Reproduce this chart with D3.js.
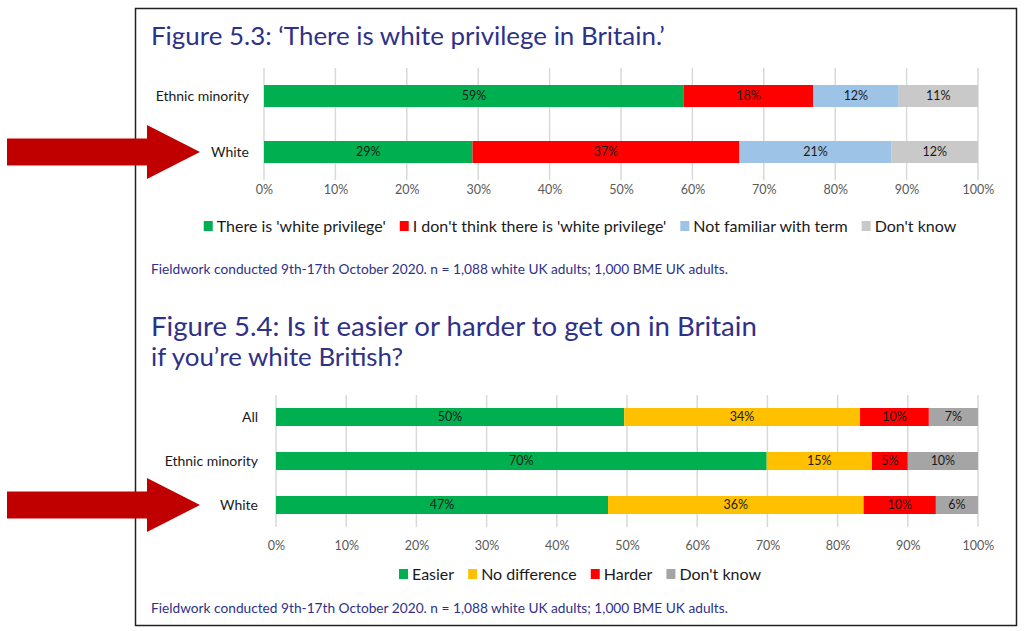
<!DOCTYPE html>
<html>
<head>
<meta charset="utf-8">
<script src="https://cdn.jsdelivr.net/npm/d3@7"></script>
<style>
  body { margin: 0; background: #fff; }
  svg { display: block; font-family: Lato, "Open Sans", sans-serif; }
</style>
</head>
<body>
<svg id="chart" width="1024" height="631"></svg>
<script>
// Figure 5.3 data
const groups1 = ["Ethnic minority", "White"];
const series1 = ["There is 'white privilege'", "I don't think there is 'white privilege'", "Not familiar with term", "Don't know"];
const thereIs = [58.8, 29.2];
const dontThink = [18.1, 37.4];
const notFamiliar = [12.0, 21.3];
const dontKnow1 = [11.1, 12.1];

// Figure 5.4 data
const groups2 = ["All", "Ethnic minority", "White"];
const series2 = ["Easier", "No difference", "Harder", "Don't know"];
const easier = [49.6, 69.9, 47.3];
const noDifference = [33.6, 15.0, 36.4];
const harder = [9.8, 5.1, 10.3];
const dontKnow2 = [7.0, 10.0, 6.0];

const tickValues = [0, 10, 20, 30, 40, 50, 60, 70, 80, 90, 100];

const titleColor = "#2e3188";
const footnote = "Fieldwork conducted 9th-17th October 2020. n = 1,088 white UK adults; 1,000 BME UK adults.";

const svg = d3.select("#chart");

// frame around both figures
svg.append("rect")
  .attr("x", 135.5).attr("y", 8.5)
  .attr("width", 881).attr("height", 617)
  .attr("fill", "none")
  .attr("stroke", "#222")
  .attr("stroke-width", 1.5);

// text that has to fill a known width
function fitText(g, str, x, y, width, size, color) {
  const t = g.append("text")
    .attr("x", x).attr("y", y)
    .attr("fill", color)
    .style("font-size", size + "px")
    .text(str);
  const w = t.node().getComputedTextLength();
  t.style("font-size", (size * width / w).toFixed(2) + "px");
  return t;
}

function drawChart(opt) {
  const g = svg.append("g");

  opt.title.forEach((line, i) => {
    fitText(g, line.text, 151, opt.titleY + i * 30, line.width, 26, titleColor);
  });

  const x = d3.scaleLinear().domain([0, 100]).range(opt.xRange);
  const y = d3.scaleBand().domain(opt.groups).range(opt.yRange);

  // vertical gridlines
  g.append("g")
    .selectAll("line")
    .data(tickValues)
    .enter().append("line")
    .attr("x1", d => x(d)).attr("x2", d => x(d))
    .attr("y1", opt.yRange[0]).attr("y2", opt.yRange[1])
    .attr("stroke", "#d9d9d9")
    .attr("stroke-width", 1.5);

  // tick labels
  const axis = d3.axisBottom(x)
    .tickValues(tickValues)
    .tickFormat(d => d + "%")
    .tickSize(0)
    .tickPadding(0);
  const ax = g.append("g")
    .attr("transform", `translate(0,${opt.tickY})`)
    .call(axis);
  ax.select(".domain").remove();
  ax.selectAll("text")
    .attr("fill", "#595959")
    .attr("dy", "0.35em")
    .style("font-size", "12.5px")
    .style("font-family", "Lato, sans-serif");

  // stacked bars
  const rows = opt.groups.map((grp, i) => {
    const row = { group: grp };
    opt.keys.forEach((k, j) => { row[k] = opt.values[j][i]; });
    return row;
  });
  const stacked = d3.stack().keys(opt.keys)(rows);
  const barH = opt.barHeight;
  const off = (y.bandwidth() - barH) / 2;

  const layer = g.selectAll(".layer")
    .data(stacked)
    .enter().append("g")
    .attr("fill", (d, i) => opt.colors[i]);

  layer.selectAll("rect")
    .data(d => d)
    .enter().append("rect")
    .attr("x", d => x(d[0]))
    .attr("y", d => y(d.data.group) + off)
    .attr("width", d => x(d[1]) - x(d[0]))
    .attr("height", barH);

  layer.selectAll("text")
    .data(d => d)
    .enter().append("text")
    .attr("x", d => (x(d[0]) + x(d[1])) / 2)
    .attr("y", d => y(d.data.group) + y.bandwidth() / 2)
    .attr("dy", "0.35em")
    .attr("text-anchor", "middle")
    .attr("fill", "#1a1a1a")
    .style("font-size", "12.5px")
    .text(d => Math.round(d[1] - d[0]) + "%");

  // category labels
  g.selectAll(".cat")
    .data(opt.groups)
    .enter().append("text")
    .attr("x", opt.labelX)
    .attr("y", d => y(d) + y.bandwidth() / 2)
    .attr("dy", "0.35em")
    .attr("text-anchor", "end")
    .attr("fill", "#1a1a1a")
    .style("font-size", "14px")
    .text(d => d);

  // legend, laid out from measured text widths and centred
  const leg = g.append("g").attr("transform", `translate(0,${opt.legendY})`);
  const items = opt.keys.map((k, i) => {
    const it = leg.append("g");
    it.append("rect")
      .attr("x", 0).attr("y", -5)
      .attr("width", 9).attr("height", 10)
      .attr("fill", opt.colors[i]);
    const t = it.append("text")
      .attr("x", 13).attr("dy", "0.35em")
      .attr("fill", "#1a1a1a")
      .style("font-size", "16px")
      .text(k);
    return { g: it, w: 13 + t.node().getComputedTextLength() };
  });
  const gap = 14;
  const total = d3.sum(items, d => d.w) + gap * (items.length - 1);
  let cx = opt.legendCenter - total / 2;
  items.forEach(it => {
    it.g.attr("transform", `translate(${cx},0)`);
    cx += it.w + gap;
  });

  fitText(g, footnote, 151, opt.footY, 577, 12, titleColor);

  // red arrow pointing at the "White" row
  const ay = y("White") + y.bandwidth() / 2;
  g.append("path")
    .attr("d", `M7,${ay - 13.5} H147 V${ay - 27} L200,${ay} L147,${ay + 27} V${ay + 13.5} H7 Z`)
    .attr("fill", "#c00000");
}

drawChart({
  title: [{ text: "Figure 5.3: \u2018There is white privilege in Britain.\u2019", width: 514 }],
  titleY: 45,
  groups: groups1,
  keys: series1,
  values: [thereIs, dontThink, notFamiliar, dontKnow1],
  colors: ["#00b050", "#ff0000", "#9dc3e6", "#c9c9c9"],
  xRange: [264, 978],
  yRange: [68, 180],
  barHeight: 22,
  labelX: 249,
  tickY: 190,
  legendY: 226,
  legendCenter: 580,
  footY: 274
});

drawChart({
  title: [
    { text: "Figure 5.4: Is it easier or harder to get on in Britain", width: 606 },
    { text: "if you\u2019re white British?", width: 252 }
  ],
  titleY: 336,
  groups: groups2,
  keys: series2,
  values: [easier, noDifference, harder, dontKnow2],
  colors: ["#00b050", "#ffc000", "#ff0000", "#a5a5a5"],
  xRange: [276, 978],
  yRange: [395, 527],
  barHeight: 18,
  labelX: 258,
  tickY: 546,
  legendY: 574,
  legendCenter: 580,
  footY: 613
});
</script>
</body>
</html>
